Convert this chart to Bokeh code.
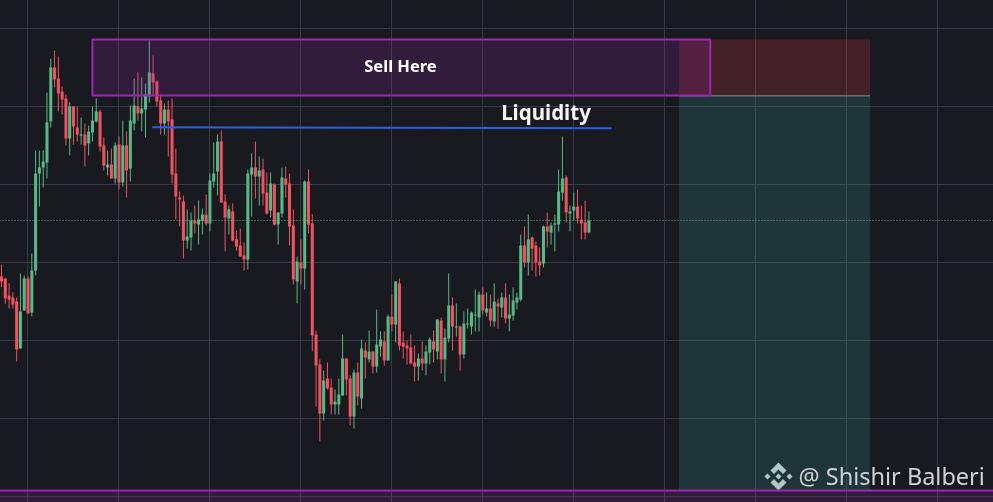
from bokeh.plotting import figure
from bokeh.models import ColumnDataSource, Range1d, FixedTicker, BoxAnnotation, Span, Label
from bokeh.embed import file_html
from bokeh.resources import INLINE

# Candle values in chart price units
opens = [678,672,621,615,603,462,576,672,570,696,987,1005,1020,1143,1305,1272,1233,1212,1092,1188,1125,1101,1104,1077,1110,1143,1173,1071,1005,1014,972,1074,960,1071,1002,1137,1188,1167,1179,1218,1287,1263,1206,
 1137,1179,1149,987,915,903,786,795,846,834,846,864,837,963,993,1083,903,852,873,789,771,741,729,984,1005,978,999,930,876,954,834,867,972,957,831,663,720,702,963,837,
 504,414,267,372,345,294,294,321,432,372,258,390,312,456,429,453,408,468,483,426,558,534,657,480,471,465,420,408,432,417,450,483,453,546,429,492,591,525,528,444,534,528,
 561,555,624,570,582,543,597,585,615,552,561,600,609,771,720,795,771,723,717,828,810,834,834,930,975,867,876,888,849,840,810]
highs = [714,672,658,631,615,687,681,678,747,1056,1056,1056,1230,1332,1356,1338,1248,1224,1200,1188,1188,1155,1137,1131,1188,1212,1179,1095,1056,1062,1080,1098,1146,1113,1191,1272,1290,1275,1257,1389,1341,1266,1224,
 1197,1206,1212,1062,933,921,879,870,891,906,882,924,987,1080,1104,1116,924,891,897,816,822,780,999,1047,1083,1038,1032,990,990,957,870,1005,1008,987,879,738,789,966,999,864,
 516,429,396,420,372,339,372,504,432,381,399,420,489,480,516,453,579,513,513,564,624,663,672,513,486,504,471,447,483,471,495,516,549,555,522,687,615,597,531,573,582,573,
 639,633,645,630,624,657,612,630,657,624,645,630,804,828,864,798,783,765,831,870,840,864,999,1098,981,891,930,939,891,906,873]
lows = [646,596,582,582,423,462,576,567,558,681,888,945,972,1125,1245,1173,1164,1071,1041,1074,1083,1074,1008,1041,1083,1140,1053,996,981,972,957,939,948,915,963,1116,1146,1113,1095,1200,1221,1188,1104,
 1104,1038,957,849,828,732,762,756,807,774,804,831,813,945,921,900,753,804,783,756,738,696,699,858,912,891,891,864,855,831,774,855,915,771,654,597,654,639,807,453,
 288,183,246,339,264,264,264,321,321,231,222,291,282,372,420,387,390,438,411,426,513,480,456,432,414,414,363,366,396,381,414,420,429,387,363,480,456,498,396,432,522,504,
 513,513,564,558,528,528,522,555,537,513,546,579,603,705,681,696,678,681,705,765,774,753,813,906,840,813,846,837,789,789,807]
closes = [663,612,609,594,459,573,672,567,696,987,1005,1023,1140,1305,1269,1227,1209,1092,1188,1128,1104,1104,1071,1113,1146,1173,1068,1011,1014,972,1071,960,1071,996,1146,1191,1167,1182,1224,1290,1260,1203,1137,
 1179,1143,984,918,909,786,798,846,837,849,864,837,966,987,1083,900,855,879,786,768,738,729,987,1005,978,996,927,867,957,834,870,975,954,828,669,723,702,963,834,501,
 411,267,366,342,294,303,324,432,369,258,390,318,462,435,453,408,474,489,426,558,534,663,471,468,462,417,408,432,417,453,489,459,549,429,495,591,528,528,444,537,537,570,
 564,624,576,582,546,603,588,615,552,564,606,615,771,720,789,762,720,711,828,813,831,837,933,972,870,873,888,852,837,810,846]

grid_x = [6.99, 31.0, 55.01, 79.02, 103.03, 127.04, 151.05, 175.06, 199.07, 223.08, 247.09]
grid_y = [1422, 1188, 954, 720, 486, 252, 18]
reference_price = 846

sell_box = dict(left=24, right=187, top=1389, bottom=1221)
bottom_box_top = 36
loss_zone = dict(left=178.75, right=229.2, top=1389, bottom=1221)
target_zone = dict(left=178.75, right=229.2, top=1221, bottom=36)
liq_x = [39.8, 161]
liq_y = [1126, 1123]

BG = "#181a20"
GREEN = "#5ab887"
RED = "#ef5360"
PURPLE = "#9c27b0"

W, H = 993, 502
x0, x1 = -1 / 3.79, 992 / 3.79
# The canvas is 2px larger than the window so its hairline edge stays off-screen
p = figure(width=W + 2, height=H + 2, output_backend="svg", toolbar_location=None,
           x_range=Range1d(x0 - 1 / 3.79, x1 + 1 / 3.79), y_range=Range1d(-3, 1509),
           background_fill_color=BG, border_fill_color=BG,
           min_border=0, min_border_left=0, min_border_right=0, min_border_top=0, min_border_bottom=0)
p.outline_line_color = None
p.styles = {"position": "fixed", "left": "-1px", "top": "-1px"}
p.xaxis.ticker = FixedTicker(ticks=grid_x)
p.yaxis.ticker = FixedTicker(ticks=grid_y)
p.xaxis.visible = False
p.yaxis.visible = False
p.xgrid.grid_line_color = "#363a46"
p.ygrid.grid_line_color = "#363a46"
p.xgrid.grid_line_width = 1
p.ygrid.grid_line_width = 1

def px(v):
    return x0 + v / W * (x1 - x0)
def py(v):
    return 1506 - 3 * v

idx = list(range(len(opens)))
colors = [GREEN if c >= o else RED for o, c in zip(opens, closes)]
src = ColumnDataSource(dict(x=idx, o=opens, h=highs, l=lows, c=closes, color=colors))
p.segment("x", "h", "x", "l", source=src, line_color="color", line_width=1)
p.vbar("x", 0.8, "o", "c", source=src, fill_color="color", line_color="color", line_width=0)

p.add_layout(Span(location=reference_price, dimension="width", line_color=GREEN, line_width=1, line_dash="1 2"))

p.add_layout(BoxAnnotation(fill_color="#3ba698", fill_alpha=0.2, line_color=None, level="annotation", **target_zone))
p.add_layout(BoxAnnotation(fill_color="#f23645", fill_alpha=0.2, line_color=None, level="annotation", **loss_zone))
p.line([loss_zone["left"], loss_zone["right"]], [1220, 1220], line_color="#8a8f96", line_width=1, level="annotation")
p.add_layout(BoxAnnotation(fill_color=PURPLE, fill_alpha=0.2, line_color=PURPLE, line_alpha=1, line_width=2, level="annotation", **sell_box))
p.add_layout(BoxAnnotation(fill_color=PURPLE, fill_alpha=0.2, line_color=PURPLE, line_alpha=1, line_width=2, level="annotation",
                           left=px(-10), right=px(W + 10), top=bottom_box_top, bottom=-60))

p.line(liq_x, liq_y, line_color="#2a60e8", line_width=2, level="annotation")

p.add_layout(Label(x=px(400), y=py(65), text="Sell Here", text_color="#ffffff", text_font="Noto Sans",
                   text_font_size="16.5px", text_font_style="bold", text_align="center", text_baseline="middle", level="annotation"))
p.add_layout(Label(x=px(545.5), y=py(111), text="Liquidity", text_color="#f4f4f4", text_font="Noto Sans",
                   text_font_size="20.5px", text_font_style="bold", text_align="center", text_baseline="alphabetic", level="annotation"))
p.add_layout(Label(x=px(798), y=py(475), text="@ Shishir Balberi", text_color="#cfd1d4", text_font="Noto Sans",
                   text_font_size="23.5px", text_align="left", text_baseline="alphabetic", level="annotation"))

# Watermark logo
cx, cy = 778, 476
def shape(pts):
    return [px(cx + a) for a, b in pts], [py(cy + b) for a, b in pts]
def diamond(a, b, r):
    return shape([(a, b - r), (a + r, b), (a, b + r), (a - r, b)])
polys = [diamond(0, 0, 3), diamond(-11, 0, 3), diamond(11, 0, 3),
         shape([(0, -14), (8, -6), (4.5, -2.5), (0, -7), (-4.5, -2.5), (-8, -6)]),
         shape([(0, 14), (8, 6), (4.5, 2.5), (0, 7), (-4.5, 2.5), (-8, 6)])]
p.patches([q[0] for q in polys], [q[1] for q in polys], fill_color="#cfd1d4", line_color=None, level="annotation")

open("out.html", "w").write(file_html(p, INLINE))
